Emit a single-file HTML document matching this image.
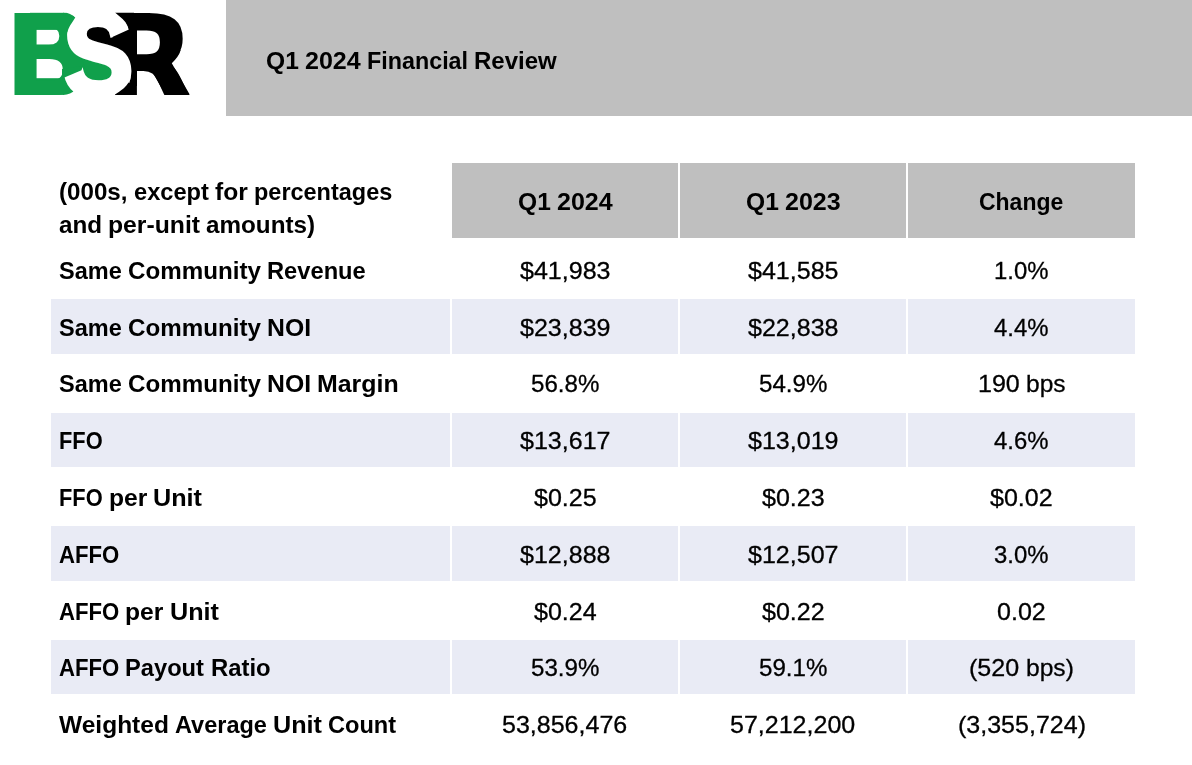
<!DOCTYPE html>
<html lang="en"><head><meta charset="utf-8"><title>Q1 2024 Financial Review</title>
<style>
html,body{margin:0;padding:0;background:#fff}
body{width:1192px;height:765px;position:relative;overflow:hidden;font-family:"Liberation Sans",sans-serif;color:#000}
.g{position:absolute;background:#bfbfbf}
.s{position:absolute;background:#e9ebf5}
.t{position:absolute;white-space:nowrap;line-height:normal;font-kerning:normal;transform-origin:0 0}
.b{font-weight:700;font-size:24.5px}
.r{font-weight:400;font-size:24.5px;-webkit-text-stroke:0.3px #000}
#logo{position:absolute;left:0;top:0}
#txt{position:absolute;left:0;top:0;width:1192px;height:765px;will-change:transform}
</style></head><body>
<div class="g" style="left:226px;top:0;width:966px;height:115.6px"></div>
<div class="g" style="left:452.1px;top:163.2px;width:225.7px;height:74.5px"></div>
<div class="g" style="left:680.1px;top:163.2px;width:225.8px;height:74.5px"></div>
<div class="g" style="left:908.2px;top:163.2px;width:226.6px;height:74.5px"></div>
<div class="s" style="left:51.0px;top:299.1px;width:399.0px;height:54.9px"></div>
<div class="s" style="left:452.1px;top:299.1px;width:225.7px;height:54.9px"></div>
<div class="s" style="left:680.1px;top:299.1px;width:225.8px;height:54.9px"></div>
<div class="s" style="left:908.2px;top:299.1px;width:226.6px;height:54.9px"></div>
<div class="s" style="left:51.0px;top:412.9px;width:399.0px;height:54.5px"></div>
<div class="s" style="left:452.1px;top:412.9px;width:225.7px;height:54.5px"></div>
<div class="s" style="left:680.1px;top:412.9px;width:225.8px;height:54.5px"></div>
<div class="s" style="left:908.2px;top:412.9px;width:226.6px;height:54.5px"></div>
<div class="s" style="left:51.0px;top:526.1px;width:399.0px;height:54.8px"></div>
<div class="s" style="left:452.1px;top:526.1px;width:225.7px;height:54.8px"></div>
<div class="s" style="left:680.1px;top:526.1px;width:225.8px;height:54.8px"></div>
<div class="s" style="left:908.2px;top:526.1px;width:226.6px;height:54.8px"></div>
<div class="s" style="left:51.0px;top:639.9px;width:399.0px;height:54.1px"></div>
<div class="s" style="left:452.1px;top:639.9px;width:225.7px;height:54.1px"></div>
<div class="s" style="left:680.1px;top:639.9px;width:225.8px;height:54.1px"></div>
<div class="s" style="left:908.2px;top:639.9px;width:226.6px;height:54.1px"></div>
<svg id="logo" width="226" height="115" viewBox="0 0 226 115" font-family="'DejaVu Sans', 'Liberation Sans', sans-serif" font-weight="700">
<defs><clipPath id="cl"><rect x="0" y="12.6" width="226" height="82.3"/></clipPath></defs>
<g clip-path="url(#cl)">
<g fill="#10a04b">
<rect x="30" y="12.6" width="34" height="17.3"/>
<rect x="30" y="78.2" width="34" height="16.7"/>
<path d="M63.2 12.6 A17.8 19 0 0 1 81 31.6 V75.9 A17.8 19 0 0 1 63.2 94.9 Z"/>
<polygon points="70,40 84,46 118,62 118,86 70,86"/>
</g>
<polygon points="82,22 137,22 137,86 120,86 120,62 82,45" fill="#000"/>
<g transform="translate(3.65,94.8) scale(1.04,1)"><text x="0" y="0" font-size="112.76" fill="#10a04b">B</text></g>
<g transform="translate(103.0,105.9) scale(1.075,1.135)"><text x="0" y="0" font-size="112.76" fill="#000">R</text></g>
</g>
<g transform="translate(63.2,94.9) scale(0.924,1.05)"><text x="0" y="0" font-family="'Liberation Sans', sans-serif" font-size="113" fill="#fff" stroke="#fff" stroke-width="5.5" stroke-linejoin="miter" stroke-miterlimit="8">S</text></g>
<g clip-path="url(#cl)">
<polygon points="115,12.6 118.8,15.7 122.6,18.9 125.5,22.2 127.6,26 128.9,29.5 112.9,36.85 111.5,39.5 134,40 134,12.6" fill="#000"/>
<polygon points="151.5,70.5 160,58 170,48 180.6,50.2 179.3,53.8 177.3,57 174.9,60.1 171.8,63.2 189.4,93.9 189.4,95.1 165.6,95.1" fill="#000"/>
<polygon points="128.6,82.6 126.4,85.6 123.8,88.2 118.8,92 115,94.4 115,94.9 124,94.9 131,84" fill="#000"/>
<polygon points="62,69 83,65.8 81.5,70.2 65,77.3 62,78.5" fill="#10a04b"/>
<polygon points="72.6,15.6 75.3,17.5 72.6,21.8 70.1,25.6 68.4,28.9 67.3,32.2 66.3,32.2 66.8,28.9 67.6,25.6 69.3,21.8 71.6,17.5" fill="#10a04b"/>
</g>
</svg>

<div id="txt">
<span class="t b" style="left:265.60px;top:47.00px;transform:scaleX(1.0036)">Q1</span>
<span class="t b" style="left:304.62px;top:47.00px;transform:scaleX(1.0227)">2024</span>
<span class="t b" style="left:366.59px;top:47.00px;transform:scaleX(0.9516)">Financial</span>
<span class="t b" style="left:473.87px;top:47.00px;transform:scaleX(0.9801)">Review</span>
<span class="t b" style="left:58.90px;top:178.00px;transform:scaleX(0.9852)">(000s,</span>
<span class="t b" style="left:133.56px;top:178.00px;transform:scaleX(0.9654)">except</span>
<span class="t b" style="left:214.73px;top:178.00px;transform:scaleX(1.0053)">for</span>
<span class="t b" style="left:253.79px;top:178.00px;transform:scaleX(0.9576)">percentages</span>
<span class="t b" style="left:58.90px;top:211.00px;transform:scaleX(0.9892)">and</span>
<span class="t b" style="left:108.21px;top:211.00px;transform:scaleX(1.0096)">per-unit</span>
<span class="t b" style="left:206.49px;top:211.00px;transform:scaleX(0.9892)">amounts)</span>
<span class="t b" style="left:517.56px;top:188.00px;transform:scaleX(1.0036)">Q1</span>
<span class="t b" style="left:556.58px;top:188.00px;transform:scaleX(1.0227)">2024</span>
<span class="t b" style="left:745.61px;top:188.00px;transform:scaleX(1.0036)">Q1</span>
<span class="t b" style="left:784.63px;top:188.00px;transform:scaleX(1.0227)">2023</span>
<span class="t b" style="left:979.38px;top:188.00px;transform:scaleX(0.9375)">Change</span>
<span class="t b" style="left:58.90px;top:257.00px;transform:scaleX(0.9602)">Same</span>
<span class="t b" style="left:127.91px;top:257.00px;transform:scaleX(0.9863)">Community</span>
<span class="t b" style="left:267.03px;top:257.00px;transform:scaleX(0.9668)">Revenue</span>
<span class="t r" style="left:519.71px;top:257.00px;transform:scaleX(1.0218)">$41,983</span>
<span class="t r" style="left:747.76px;top:257.00px;transform:scaleX(1.0218)">$41,585</span>
<span class="t r" style="left:994.26px;top:257.00px;transform:scaleX(0.9755)">1.0%</span>
<span class="t b" style="left:58.90px;top:314.00px;transform:scaleX(0.9602)">Same</span>
<span class="t b" style="left:127.91px;top:314.00px;transform:scaleX(0.9863)">Community</span>
<span class="t b" style="left:267.03px;top:314.00px;transform:scaleX(1.0110)">NOI</span>
<span class="t r" style="left:519.71px;top:314.00px;transform:scaleX(1.0218)">$23,839</span>
<span class="t r" style="left:747.76px;top:314.00px;transform:scaleX(1.0218)">$22,838</span>
<span class="t r" style="left:994.26px;top:314.00px;transform:scaleX(0.9755)">4.4%</span>
<span class="t b" style="left:58.90px;top:370.00px;transform:scaleX(0.9602)">Same</span>
<span class="t b" style="left:127.91px;top:370.00px;transform:scaleX(0.9863)">Community</span>
<span class="t b" style="left:267.03px;top:370.00px;transform:scaleX(1.0110)">NOI</span>
<span class="t b" style="left:317.29px;top:370.00px;transform:scaleX(1.0162)">Margin</span>
<span class="t r" style="left:530.74px;top:370.00px;transform:scaleX(0.9848)">56.8%</span>
<span class="t r" style="left:758.79px;top:370.00px;transform:scaleX(0.9848)">54.9%</span>
<span class="t r" style="left:977.73px;top:370.00px;transform:scaleX(1.0226)">190</span>
<span class="t r" style="left:1025.76px;top:370.00px;transform:scaleX(1.0001)">bps</span>
<span class="t b" style="left:58.90px;top:427.00px;transform:scaleX(0.8906)">FFO</span>
<span class="t r" style="left:519.71px;top:427.00px;transform:scaleX(1.0218)">$13,617</span>
<span class="t r" style="left:747.76px;top:427.00px;transform:scaleX(1.0218)">$13,019</span>
<span class="t r" style="left:994.26px;top:427.00px;transform:scaleX(0.9755)">4.6%</span>
<span class="t b" style="left:58.90px;top:484.00px;transform:scaleX(0.8906)">FFO</span>
<span class="t b" style="left:108.76px;top:484.00px;transform:scaleX(1.0062)">per</span>
<span class="t b" style="left:153.35px;top:484.00px;transform:scaleX(1.0288)">Unit</span>
<span class="t r" style="left:533.60px;top:484.00px;transform:scaleX(1.0225)">$0.25</span>
<span class="t r" style="left:761.65px;top:484.00px;transform:scaleX(1.0225)">$0.23</span>
<span class="t r" style="left:990.15px;top:484.00px;transform:scaleX(1.0225)">$0.02</span>
<span class="t b" style="left:58.90px;top:541.00px;transform:scaleX(0.9043)">AFFO</span>
<span class="t r" style="left:519.71px;top:541.00px;transform:scaleX(1.0218)">$12,888</span>
<span class="t r" style="left:747.76px;top:541.00px;transform:scaleX(1.0218)">$12,507</span>
<span class="t r" style="left:994.26px;top:541.00px;transform:scaleX(0.9755)">3.0%</span>
<span class="t b" style="left:58.90px;top:598.00px;transform:scaleX(0.9043)">AFFO</span>
<span class="t b" style="left:125.42px;top:598.00px;transform:scaleX(1.0062)">per</span>
<span class="t b" style="left:170.02px;top:598.00px;transform:scaleX(1.0288)">Unit</span>
<span class="t r" style="left:533.60px;top:598.00px;transform:scaleX(1.0225)">$0.24</span>
<span class="t r" style="left:761.65px;top:598.00px;transform:scaleX(1.0225)">$0.22</span>
<span class="t r" style="left:997.12px;top:598.00px;transform:scaleX(1.0224)">0.02</span>
<span class="t b" style="left:58.90px;top:654.00px;transform:scaleX(0.9043)">AFFO</span>
<span class="t b" style="left:125.42px;top:654.00px;transform:scaleX(0.9669)">Payout</span>
<span class="t b" style="left:210.62px;top:654.00px;transform:scaleX(0.9745)">Ratio</span>
<span class="t r" style="left:530.74px;top:654.00px;transform:scaleX(0.9848)">53.9%</span>
<span class="t r" style="left:758.79px;top:654.00px;transform:scaleX(0.9848)">59.1%</span>
<span class="t r" style="left:969.39px;top:654.00px;transform:scaleX(1.0225)">(520</span>
<span class="t r" style="left:1025.76px;top:654.00px;transform:scaleX(1.0039)">bps)</span>
<span class="t b" style="left:58.90px;top:711.00px;transform:scaleX(1.0008)">Weighted</span>
<span class="t b" style="left:175.00px;top:711.00px;transform:scaleX(0.9596)">Average</span>
<span class="t b" style="left:273.14px;top:711.00px;transform:scaleX(1.0288)">Unit</span>
<span class="t b" style="left:328.36px;top:711.00px;transform:scaleX(0.9630)">Count</span>
<span class="t r" style="left:502.34px;top:711.00px;transform:scaleX(1.0212)">53,856,476</span>
<span class="t r" style="left:730.39px;top:711.00px;transform:scaleX(1.0212)">57,212,200</span>
<span class="t r" style="left:957.52px;top:711.00px;transform:scaleX(1.0212)">(3,355,724)</span>
</div>
</body></html>
